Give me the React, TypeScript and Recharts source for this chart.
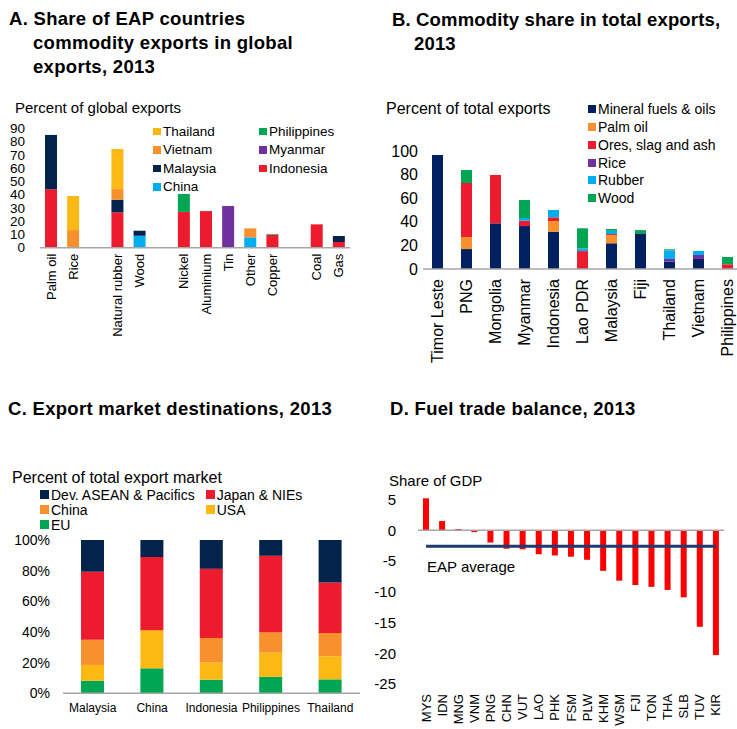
import React from 'react';
import { BarChart, Bar, ComposedChart, Line, XAxis, YAxis, ReferenceLine } from 'recharts';

const FONT = '"Liberation Sans", Arial, Helvetica, sans-serif';
const AXIS_GREY = '#A6A6A6';

/* ---------- A. Share of EAP countries commodity exports ---------- */
const aCategories = ['Palm oil', 'Rice', '', 'Natural rubber', 'Wood', '', 'Nickel', 'Aluminium', 'Tin', 'Other', 'Copper', '', 'Coal', 'Gas'];
const aIndonesia = [44, null, null, 26.6, null, null, 27, 27.6, null, null, 9.8, null, 17.6, 4.3];
const aChina = [null, null, null, null, 9, null, null, null, null, 7.8, null, null, null, null];
const aMalaysia = [41, null, null, 9.6, 3.8, null, null, null, null, null, null, null, null, 4.5];
const aVietnam = [null, 13.3, null, 8, null, null, null, null, null, 6.8, null, null, null, null];
const aThailand = [null, 25.7, null, 30.2, null, null, null, null, null, null, null, null, null, null];
const aPhilippines = [null, null, null, null, null, null, 13.5, null, null, null, 0.5, null, null, null];
const aMyanmar = [null, null, null, null, null, null, null, null, 31.4, null, null, null, null, null];
const aTicks = [0, 10, 20, 30, 40, 50, 60, 70, 80, 90];

const aSeries = [
  { key: 'Indonesia', color: '#EC1C2E', values: aIndonesia },
  { key: 'China', color: '#00AEEF', values: aChina },
  { key: 'Malaysia', color: '#03234B', values: aMalaysia },
  { key: 'Vietnam', color: '#F7902D', values: aVietnam },
  { key: 'Thailand', color: '#FDB913', values: aThailand },
  { key: 'Philippines', color: '#00A651', values: aPhilippines },
  { key: 'Myanmar', color: '#7030A0', values: aMyanmar },
];
const aLegendCol1 = ['Thailand', 'Vietnam', 'Malaysia', 'China'];
const aLegendCol2 = ['Philippines', 'Myanmar', 'Indonesia'];

/* ---------- B. Commodity share in total exports ---------- */
const bCountries = ['Timor Leste', 'PNG', 'Mongolia', 'Myanmar', 'Indonesia', 'Lao PDR', 'Malaysia', 'Fiji', 'Thailand', 'Vietnam', 'Philippines'];
const bMineral = [96.6, 16.9, 38.7, 36.4, 31.6, 0, 21.8, 30.2, 6.2, 8.5, 0];
const bPalm = [0, 10.2, 0, 0, 9.1, 0, 7, 0, 0, 0, 0];
const bOres = [0, 45.8, 41, 4.5, 3.1, 15.2, 0.8, 0, 0, 0, 4];
const bRice = [0, 0, 0, 0, 0, 0, 0, 0, 2.3, 3.4, 0];
const bRubber = [0, 0, 0, 2.3, 6.2, 2.3, 2.8, 0, 7.3, 3.4, 0];
const bWood = [0, 11, 0, 15.3, 0, 17, 1.5, 2.8, 0.9, 0, 6.2];
const bTicks = [0, 20, 40, 60, 80, 100];

const bSeries = [
  { key: 'Mineral fuels & oils', color: '#002060', values: bMineral },
  { key: 'Palm oil', color: '#F7902D', values: bPalm },
  { key: 'Ores, slag and ash', color: '#EC1C2E', values: bOres },
  { key: 'Rice', color: '#7030A0', values: bRice },
  { key: 'Rubber', color: '#00AEEF', values: bRubber },
  { key: 'Wood', color: '#00A651', values: bWood },
];

/* ---------- C. Export market destinations ---------- */
const cCountries = ['Malaysia', 'China', 'Indonesia', 'Philippines', 'Thailand'];
const cEU = [8.2, 16.3, 8.9, 10.7, 9.1];
const cUSA = [10.3, 24.9, 11.1, 15.8, 15.1];
const cChina = [16.5, 0, 16.1, 13.4, 15.2];
const cJapan = [44.3, 47.7, 45.1, 49.8, 32.9];
const cDev = [20.7, 11.1, 18.8, 10.3, 27.7];
const cTicks = [0, 20, 40, 60, 80, 100];

const cSeries = [
  { key: 'EU', color: '#00A651', values: cEU },
  { key: 'USA', color: '#FDB913', values: cUSA },
  { key: 'China', color: '#F7902D', values: cChina },
  { key: 'Japan & NIEs', color: '#EC1C2E', values: cJapan },
  { key: 'Dev. ASEAN & Pacifics', color: '#03234B', values: cDev },
];

/* ---------- D. Fuel trade balance ---------- */
const dCountries = ['MYS', 'IDN', 'MNG', 'VNM', 'PNG', 'CHN', 'VUT', 'LAO', 'PHK', 'FSM', 'PLW', 'KHM', 'WSM', 'FJI', 'TON', 'THA', 'SLB', 'TUV', 'KIR'];
const dBalance = [5.2, 1.5, 0.2, -0.3, -2.0, -3.0, -3.1, -3.9, -4.1, -4.3, -4.8, -6.6, -8.2, -8.9, -9.2, -9.7, -10.9, -15.7, -20.3];
const dEapAverage = -2.6;
const dTicks = [-25, -20, -15, -10, -5, 0, 5];

const aData = aCategories.map((name, i) => {
  const row: Record<string, any> = { name };
  aSeries.forEach((s) => { row[s.key] = s.values[i]; });
  return row;
});
const bData = bCountries.map((name, i) => {
  const row: Record<string, any> = { name };
  bSeries.forEach((s) => { row[s.key] = s.values[i]; });
  return row;
});
const cData = cCountries.map((name, i) => {
  const row: Record<string, any> = { name };
  cSeries.forEach((s) => { row[s.key] = s.values[i]; });
  return row;
});
const dData = dCountries.map((name, i) => ({ name, balance: dBalance[i], eap: dEapAverage }));

const colorOf = (series: { key: string; color: string }[], key: string) =>
  series.find((s) => s.key === key)?.color;

function RotatedTick({ x, y, payload, size }: any) {
  return (
    <text
      x={x}
      y={y}
      transform={`rotate(-90, ${x}, ${y})`}
      textAnchor="end"
      dy="0.35em"
      fontSize={size}
      fontFamily={FONT}
      fill="#000"
    >
      {payload.value}
    </text>
  );
}

function LegendItem({ x, y, color, label, box, size, gap }: any) {
  return (
    <div
      style={{
        position: 'absolute',
        left: x,
        top: y - size * 0.6,
        height: size * 1.2,
        display: 'flex',
        alignItems: 'center',
        fontSize: size,
        whiteSpace: 'nowrap',
      }}
    >
      <span style={{ width: box, height: box, background: color, marginRight: gap, display: 'inline-block' }} />
      {label}
    </div>
  );
}

function Label({ x, y, size, children }: any) {
  return (
    <div style={{ position: 'absolute', left: x, top: y - size * 0.6, height: size * 1.2, lineHeight: `${size * 1.2}px`, fontSize: size, whiteSpace: 'nowrap' }}>
      {children}
    </div>
  );
}

function Title({ x, y, indent, spacing = 0.3, children }: any) {
  return (
    <div
      style={{
        position: 'absolute',
        left: x,
        top: y,
        fontSize: 18.5,
        fontWeight: 'bold',
        lineHeight: '24px',
        letterSpacing: spacing,
        paddingLeft: indent,
        textIndent: -indent,
        whiteSpace: 'nowrap',
      }}
    >
      {children}
    </div>
  );
}

const tickStyle = (size: number) => ({ fontSize: size, fill: '#000', fontFamily: FONT });

export default function App() {
  return (
    <div
      style={{
        position: 'absolute',
        left: 0,
        top: 0,
        width: 737,
        height: 729,
        overflow: 'hidden',
        background: '#fff',
        fontFamily: FONT,
        color: '#000',
      }}
    >
      {/* Panel A */}
      <Title x={9} y={7} indent={24}>
        A. Share of EAP countries<br />commodity exports in global<br />exports, 2013
      </Title>
      <Label x={15} y={108} size={15}>Percent of global exports</Label>
      <div style={{ position: 'absolute', left: 0, top: 118 }}>
        <BarChart width={370} height={230} data={aData} margin={{ top: 10.3, right: 20, left: 0, bottom: 0 }}>
          <XAxis
            dataKey="name"
            interval={0}
            height={100.3}
            tickSize={0}
            tickMargin={6}
            axisLine={{ stroke: AXIS_GREY, strokeWidth: 1.5 }}
            tickLine={false}
            tick={(p: any) => <RotatedTick {...p} size={13} />}
          />
          <YAxis
            width={40}
            domain={[0, 90]}
            ticks={aTicks}
            interval={0}
            axisLine={false}
            tickLine={false}
            tickSize={0}
            tickMargin={15}
            tick={tickStyle(13.5)}
          />
          {aSeries.map((s) => (
            <Bar key={s.key} dataKey={s.key} stackId="a" fill={s.color} barSize={12} isAnimationActive={false} />
          ))}
        </BarChart>
      </div>
      {aLegendCol1.map((k, i) => (
        <LegendItem key={k} x={153} y={131.5 + i * 18.5} color={colorOf(aSeries, k)} label={k} box={7.5} size={13.5} gap={2.5} />
      ))}
      {aLegendCol2.map((k, i) => (
        <LegendItem key={k} x={259} y={131.5 + i * 18.5} color={colorOf(aSeries, k)} label={k} box={7.5} size={13.5} gap={2.5} />
      ))}

      {/* Panel B */}
      <Title x={392} y={8} indent={22} spacing={0.15}>
        B. Commodity share in total exports,<br />2013
      </Title>
      <Label x={386} y={109} size={16}>Percent of total exports</Label>
      <div style={{ position: 'absolute', left: 375, top: 141 }}>
        <BarChart width={370} height={228} data={bData} margin={{ top: 10, right: 3, left: 0, bottom: 0 }}>
          <XAxis
            dataKey="name"
            interval={0}
            height={100}
            tickSize={0}
            tickMargin={10}
            axisLine={{ stroke: AXIS_GREY, strokeWidth: 1.5 }}
            tickLine={false}
            tick={(p: any) => <RotatedTick {...p} size={16} />}
          />
          <YAxis
            width={48}
            domain={[0, 100]}
            ticks={bTicks}
            interval={0}
            axisLine={false}
            tickLine={false}
            tickSize={0}
            tickMargin={5}
            tick={tickStyle(16)}
          />
          {bSeries.map((s) => (
            <Bar key={s.key} dataKey={s.key} stackId="b" fill={s.color} barSize={11} isAnimationActive={false} />
          ))}
        </BarChart>
      </div>
      {bSeries.map((s, i) => (
        <LegendItem key={s.key} x={587.5} y={109.3 + i * 17.75} color={s.color} label={s.key} box={8} size={14} gap={2.5} />
      ))}

      {/* Panel C */}
      <Title x={8} y={397} indent={0}>
        C. Export market destinations, 2013
      </Title>
      <Label x={12} y={478} size={16}>Percent of total export market</Label>
      <LegendItem x={40} y={495} color={colorOf(cSeries, 'Dev. ASEAN & Pacifics')} label="Dev. ASEAN & Pacifics" box={9} size={14} gap={2} />
      <LegendItem x={205.7} y={495} color={colorOf(cSeries, 'Japan & NIEs')} label="Japan & NIEs" box={9} size={14} gap={2} />
      <LegendItem x={40} y={510} color={colorOf(cSeries, 'China')} label="China" box={9} size={14} gap={2} />
      <LegendItem x={205.7} y={510} color={colorOf(cSeries, 'USA')} label="USA" box={9} size={14} gap={2} />
      <LegendItem x={40} y={525} color={colorOf(cSeries, 'EU')} label="EU" box={9} size={14} gap={2} />
      <div style={{ position: 'absolute', left: 0, top: 530 }}>
        <BarChart width={370} height={195} data={cData} margin={{ top: 10, right: 10, left: 0, bottom: 0 }}>
          <XAxis
            dataKey="name"
            interval={0}
            height={31.7}
            tickSize={0}
            tickMargin={10}
            axisLine={{ stroke: AXIS_GREY, strokeWidth: 1.5 }}
            tickLine={false}
            tick={tickStyle(12)}
          />
          <YAxis
            width={63}
            domain={[0, 100]}
            ticks={cTicks}
            interval={0}
            axisLine={false}
            tickLine={false}
            tickSize={0}
            tickMargin={13}
            tick={tickStyle(14)}
            tickFormatter={(v: number) => `${v}%`}
          />
          {cSeries.map((s) => (
            <Bar key={s.key} dataKey={s.key} stackId="c" fill={s.color} barSize={23} isAnimationActive={false} />
          ))}
        </BarChart>
      </div>

      {/* Panel D */}
      <Title x={390} y={397} indent={0}>
        D. Fuel trade balance, 2013
      </Title>
      <Label x={389} y={481} size={15}>Share of GDP</Label>
      <div style={{ position: 'absolute', left: 375, top: 488 }}>
        <ComposedChart width={370} height={241} data={dData} margin={{ top: 10.3, right: 21, left: 0, bottom: 0 }}>
          <XAxis
            dataKey="name"
            interval={0}
            height={45}
            tickSize={0}
            tickMargin={10}
            axisLine={false}
            tickLine={false}
            tick={(p: any) => <RotatedTick {...p} size={13} />}
          />
          <YAxis
            width={43}
            domain={[-25, 5]}
            ticks={dTicks}
            interval={0}
            axisLine={false}
            tickLine={false}
            tickSize={0}
            tickMargin={22}
            tick={tickStyle(15)}
          />
          <ReferenceLine y={0} stroke={AXIS_GREY} strokeWidth={1.5} />
          <Bar dataKey="balance" fill="#FF0000" barSize={6} isAnimationActive={false} />
          <Line dataKey="eap" stroke="#1F3A6E" strokeWidth={3} dot={false} activeDot={false} isAnimationActive={false} />
        </ComposedChart>
      </div>
      <Label x={427} y={567} size={15}>EAP average</Label>
    </div>
  );
}
